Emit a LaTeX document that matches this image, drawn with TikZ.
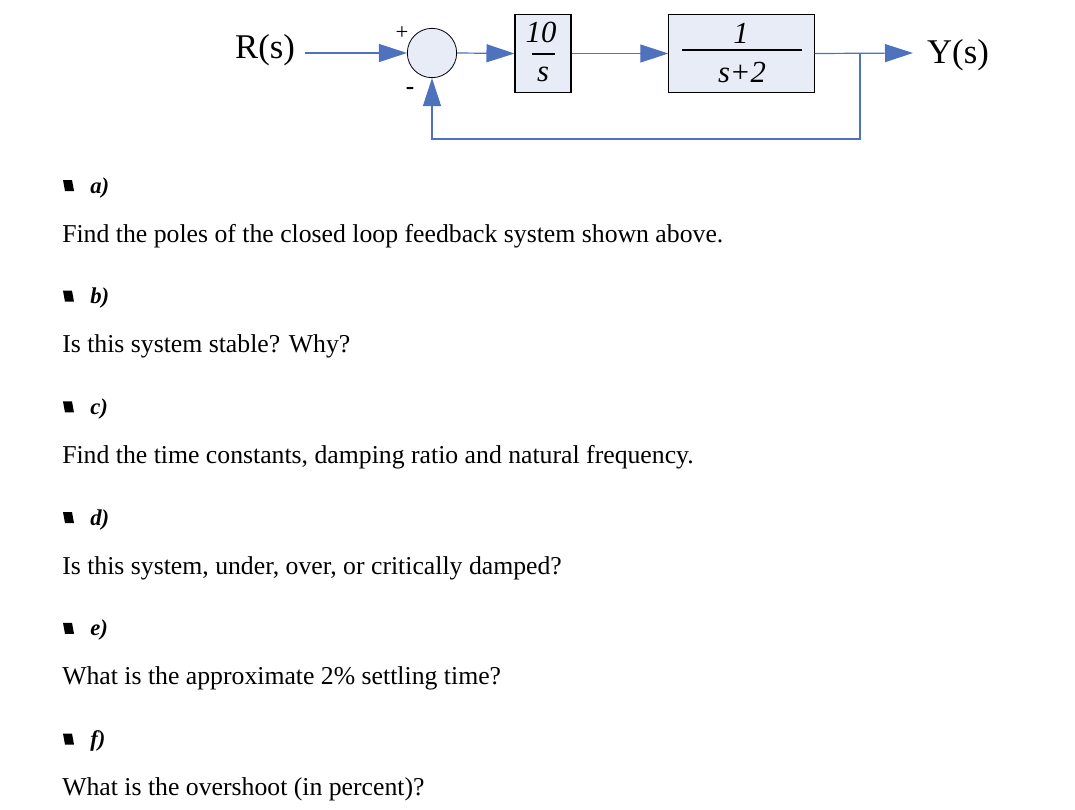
\documentclass[tikz,border=0pt]{standalone}
\usepackage{fontspec}
\setmainfont{Liberation Serif}
\usetikzlibrary{positioning,arrows.meta}
\usepackage{xcolor}
\definecolor{sigblue}{RGB}{79,114,190}
\definecolor{blockfill}{RGB}{232,236,247}
\tikzset{
  sig/.style={draw=sigblue,line width=0.9pt},
  sigarrow/.style={sig,-{Triangle[length=21pt,width=13.5pt]},shorten >=0pt},
  block/.style={draw,fill=blockfill,line width=0.8pt,inner sep=0pt},
  sumnode/.style={draw,circle,fill=blockfill,line width=0.6pt,minimum size=37pt,inner sep=0pt},
  tf/.style={font=\fontsize{23}{25}\selectfont\itshape,inner sep=0pt},
  sigtext/.style={font=\fontsize{26}{28}\selectfont,inner sep=0pt},
  qlabel/.style={font=\fontsize{17}{19}\selectfont\bfseries\itshape,anchor=base west,inner sep=0pt},
  qtext/.style={font=\fontsize{19.3}{21}\selectfont,anchor=base west,inner sep=0pt},
}
\begin{document}
\begin{tikzpicture}[x=0.75pt,y=-0.75pt]
\useasboundingbox (0,0) rectangle (1075,810);
% block diagram
\node [sigtext] (r) at (265,50) {R(s)};
\node [sumnode] (sum) at (432,53) {};
\node [block,minimum width=42pt,minimum height=59pt] (g1) at (543,53.5) {};
\node [block,minimum width=109pt,minimum height=59pt] (g2) at (741.5,53.5) {};
\node [sigtext] (y) at (958,55) {Y(s)};
\node [font=\fontsize{17}{18}\selectfont,inner sep=0pt] (plus) at (402,33) {+};
\node [font=\fontsize{19}{20}\selectfont\bfseries,inner sep=0pt] (minus) at (410,91) {-};
% transfer functions
\node [tf] (n1) at (541,32) {10};
\node [tf] (d1) at (543,74) {s};
\draw [line width=0.8pt] (532,54) -- (555,54);
\node [tf] (n2) at (741,33) {1};
\node [tf] (d2) at (742,72) {s+2};
\draw [line width=0.8pt] (682,50) -- (802,50);
% signals
\coordinate (rin) at (305,53);
\coordinate (branch) at (860,53);
\coordinate (yout) at (913,53);
\coordinate (fb) at (860,139);
\draw [sigarrow] (rin) -- (sum.west);
\draw [sigarrow] (sum.east) -- (g1.west);
\draw [sigarrow] (g1.east) -- (g2.west);
\draw [sigarrow] (g2.east) -- (yout);
\draw [sigarrow] (branch) -- (fb) -| (sum.south);
% questions
\foreach \lab/\txt [count=\i from 0] in {
  a)/{Find the poles of the closed loop feedback system shown above.},
  b)/{Is this system stable? Why?},
  c)/{Find the time constants, damping ratio and natural frequency.},
  d)/{Is this system, under, over, or critically damped?},
  e)/{What is the approximate 2\% settling time?},
  f)/{What is the overshoot (in percent)?}} {
  \pgfmathsetmacro{\yy}{193+110.7*\i}
  \fill (65,\yy-2) -- (74,\yy-2) -- (72,\yy-13) -- (63,\yy-13) -- cycle;
  \node [qlabel] (q\i) at (90,\yy) {\lab};
  \node [qtext] (t\i) at (62,\yy+49) {\txt};
}
\end{tikzpicture}
\end{document}
